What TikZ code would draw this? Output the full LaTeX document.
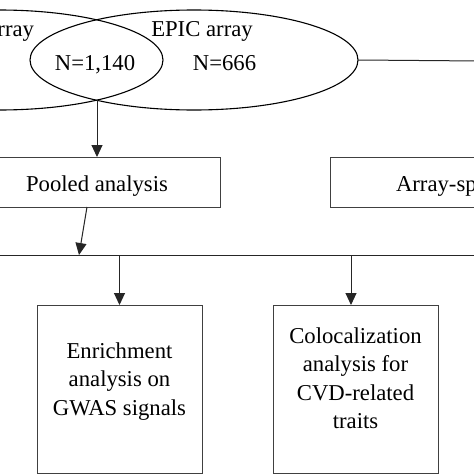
\documentclass[tikz,border=0pt]{standalone}
\usepackage{fontspec}
\setmainfont{Liberation Serif}
\usetikzlibrary{shapes.geometric,arrows.meta}
\begin{document}
\begin{tikzpicture}[x=1pt,y=-1pt,
  txt/.style={inner sep=0pt,outer sep=0pt,font={\fontsize{22.7}{28.5}\selectfont},text=black},
  ell/.style={draw=black,line width=1.1pt,ellipse,minimum width=328pt,minimum height=100pt,inner sep=0pt,outer sep=0pt},
  boxn/.style={draw=black!75,line width=1pt,rectangle,inner sep=0pt,outer sep=0pt},
  conn/.style={draw=black!85,line width=1pt},
  arr/.style={conn,-{Triangle[length=12pt,width=11pt]}}]
\useasboundingbox (0,0) rectangle (474,474);
\clip (0,0) rectangle (474,474);
\fill[white] (0,0) rectangle (474,474);
% ellipses
\node[ell] (left) at (-1,60) {};
\node[ell] (epic) at (194,60) {};
\node[txt,anchor=base east] (lefttxt) at (34,36) {array};
\node[txt,anchor=base] (epictxt) at (202,36) {EPIC array};
\node[txt,anchor=base] (n1140) at (95,70) {N=1,140};
\node[txt,anchor=base] (n666) at (224.5,70) {N=666};
\coordinate (isect) at (97,100);
\coordinate (rightend) at (480,61);
% boxes
\node[boxn,minimum width=246pt,minimum height=50pt] (pool) at (97,182) {};
\node[boxn,minimum width=300pt,minimum height=50pt] (spec) at (480,182) {};
\node[txt,anchor=base] (pooltxt) at (97,191) {Pooled analysis};
\node[txt,anchor=base west] (spectxt) at (396,191) {Array-specific analysis};
\node[boxn,minimum width=165pt,minimum height=168pt] (enr) at (119.5,389) {};
\node[boxn,minimum width=165pt,minimum height=168pt] (colo) at (355.5,389) {};
\node[txt,align=center] (enrtxt) at (119.5,381.3) {Enrichment\\analysis on\\GWAS signals};
\node[txt,align=center] (colotxt) at (355.5,378.3) {Colocalization\\analysis for\\CVD-related\\traits};
% horizontal line
\coordinate (hlL) at (-5,255);
\coordinate (hlR) at (480,255);
\coordinate (hlA) at (79,255);
\coordinate (hlB) at (119.5,255);
\coordinate (hlC) at (351,255);
% connectors
\draw[conn] (epic.east) -- (rightend);
\draw[arr] (isect) -- (pool.north);
\draw[arr] ([xshift=-10pt]pool.south) -- (hlA);
\draw[conn] (hlL) -- (hlR);
\draw[arr] (hlB) -- (enr.north);
\draw[arr] (hlC) -- (hlC |- colo.north);
\end{tikzpicture}
\end{document}
